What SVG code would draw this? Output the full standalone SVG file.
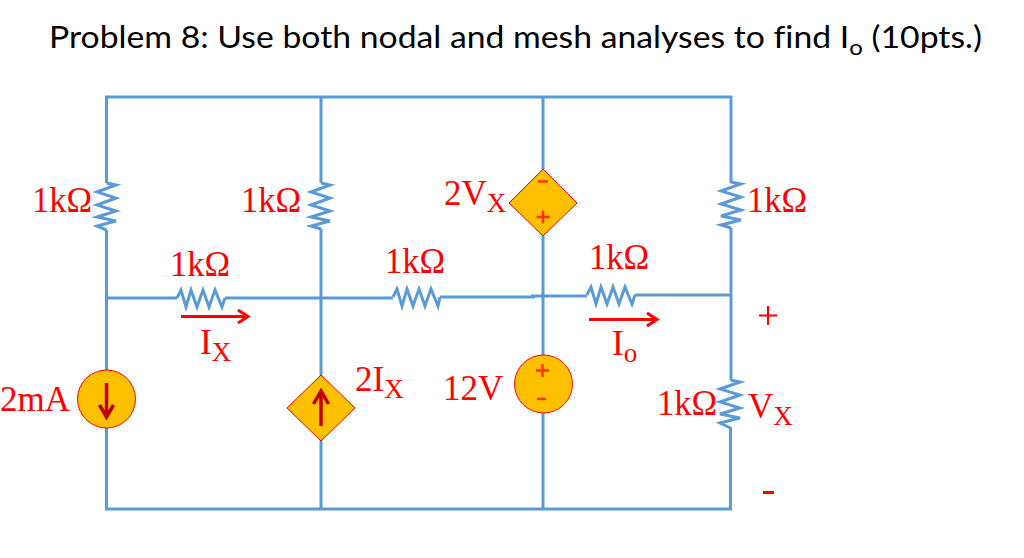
<svg xmlns="http://www.w3.org/2000/svg" width="1024" height="558" viewBox="0 0 1024 558">
<style>
.w{fill:none;stroke:#5b9bd5;stroke-width:3}
.s{fill:#ffc000;stroke:#ff0000;stroke-width:1}
.l{font-family:"Liberation Serif","Times New Roman",serif;font-size:35px;fill:#ff0000}
.u{font-size:27px}
.t{font-family:Lato,"Open Sans",sans-serif;font-size:31px;fill:#000;font-variant-ligatures:none}
.a{fill:none;stroke:#ff0000;stroke-width:3}
.d{fill:none;stroke:#c00000;stroke-width:3.5}
.m{stroke:#ff3300;stroke-width:2.500;fill:none}
.mb{stroke:#ff0000;stroke-width:2;fill:none}
</style>
<rect width="1024" height="558" fill="#fff"/>
<text id="title" class="t" x="49" y="48" textLength="933" lengthAdjust="spacingAndGlyphs">Problem 8: Use both nodal and mesh analyses to find I<tspan font-size="22" dy="7">o</tspan><tspan dy="-7"> (10pts.)</tspan></text>
<g id="connectors">
<path class="w" d="M106.500 183V97H731V183"/>
<path class="w" d="M106.500 230V370M106.500 428V509H730.500V427"/>
<path class="w" d="M321 97V183M321 229V375M321 441V509"/>
<path class="w" d="M543 97V169M543 236V355M543 413V509"/>
<path class="w" d="M731 228V380"/>
<path class="w" d="M106 298H177M225 298H393M440 297H535M531 296H587M635 295H731"/>
</g>
<g id="R1"><path class="w" d="M106.500 183L116 185L97 192L116 198L97 205L116 211L97 217L116 221L97 226L106.500 230"/><text class="l" x="32" y="212" textLength="60" lengthAdjust="spacingAndGlyphs">1kΩ</text></g>
<g id="R2"><path class="w" d="M321 183L330 185L311 192L330 198L311 205L330 211L311 217L330 221L311 226L321 229"/><text class="l" x="241" y="212" textLength="60" lengthAdjust="spacingAndGlyphs">1kΩ</text></g>
<g id="R3"><path class="w" d="M731 182L741 184L721 191L741 197L721 204L741 210L721 216L741 220L721 225L731 228"/><text class="l" x="747" y="212" textLength="60" lengthAdjust="spacingAndGlyphs">1kΩ</text></g>
<g id="R4"><path class="w" d="M177 298L181 290L186 307L191 290L197 307L203 290L209 307L215 290L222 307L225 298"/><text class="l" x="170" y="276" textLength="60" lengthAdjust="spacingAndGlyphs">1kΩ</text></g>
<g id="R5"><path class="w" d="M393 297L397 289L402 306L407 289L413 306L419 289L425 306L431 289L438 306L440 297"/><text class="l" x="385" y="273" textLength="60" lengthAdjust="spacingAndGlyphs">1kΩ</text></g>
<g id="R6"><path class="w" d="M587 295L591 287L596 304L601 287L607 304L613 287L619 304L625 287L632 304L635 295"/><text class="l" x="589" y="269" textLength="60" lengthAdjust="spacingAndGlyphs">1kΩ</text></g>
<g id="R7"><path class="w" d="M730.500 380L740 382L720 389L740 395L720 402L740 408L720 414L740 418L720 423L730.500 428"/><text class="l" x="657" y="415" textLength="60" lengthAdjust="spacingAndGlyphs">1kΩ</text></g>
<g id="Ix"><path class="a" d="M181 316.500H248M238 310L248 316.500L238 323"/><text class="l" x="200" y="354">I<tspan class="u" dy="7">X</tspan></text></g>
<g id="Io"><path class="a" d="M589 319.500H657M647 313L657 319.500L647 326"/><text class="l" x="612" y="355">I<tspan class="u" dy="7">o</tspan></text></g>
<g id="I2mA"><circle class="s" cx="106.500" cy="399" r="29"/><path class="d" d="M106.500 383V417M99.500 405L106.500 417L113.500 405"/><text class="l" x="0" y="411">2mA</text></g>
<g id="I2Ix"><path class="s" d="M321 375L355 408L321 441L287 408Z"/><path class="d" d="M321 426V391M313.500 404L321 391L328.500 404"/><text class="l" x="355" y="391">2I<tspan class="u" dy="7">X</tspan></text></g>
<g id="V2Vx"><path class="s" d="M543 169L577 203L543 236L509 203Z"/><path class="m" d="M538 181.500H548M536.500 217H549.500M543 210.500V223.500"/><text class="l" x="444" y="205">2V<tspan class="u" dy="7">X</tspan></text></g>
<g id="V12"><circle class="s" cx="543.500" cy="384" r="29"/><path class="m" d="M536 370.500H549M542.500 364V377M537 399H546"/><text class="l" x="443" y="400">12V</text></g>
<g id="Vx"><text class="l" x="748" y="418">V<tspan class="u" dy="7">X</tspan></text><path class="mb" d="M759 315.500H777M768 306V325"/><path d="M763 492.500H774" stroke="#ff0000" stroke-width="3" fill="none"/></g>
</svg>
